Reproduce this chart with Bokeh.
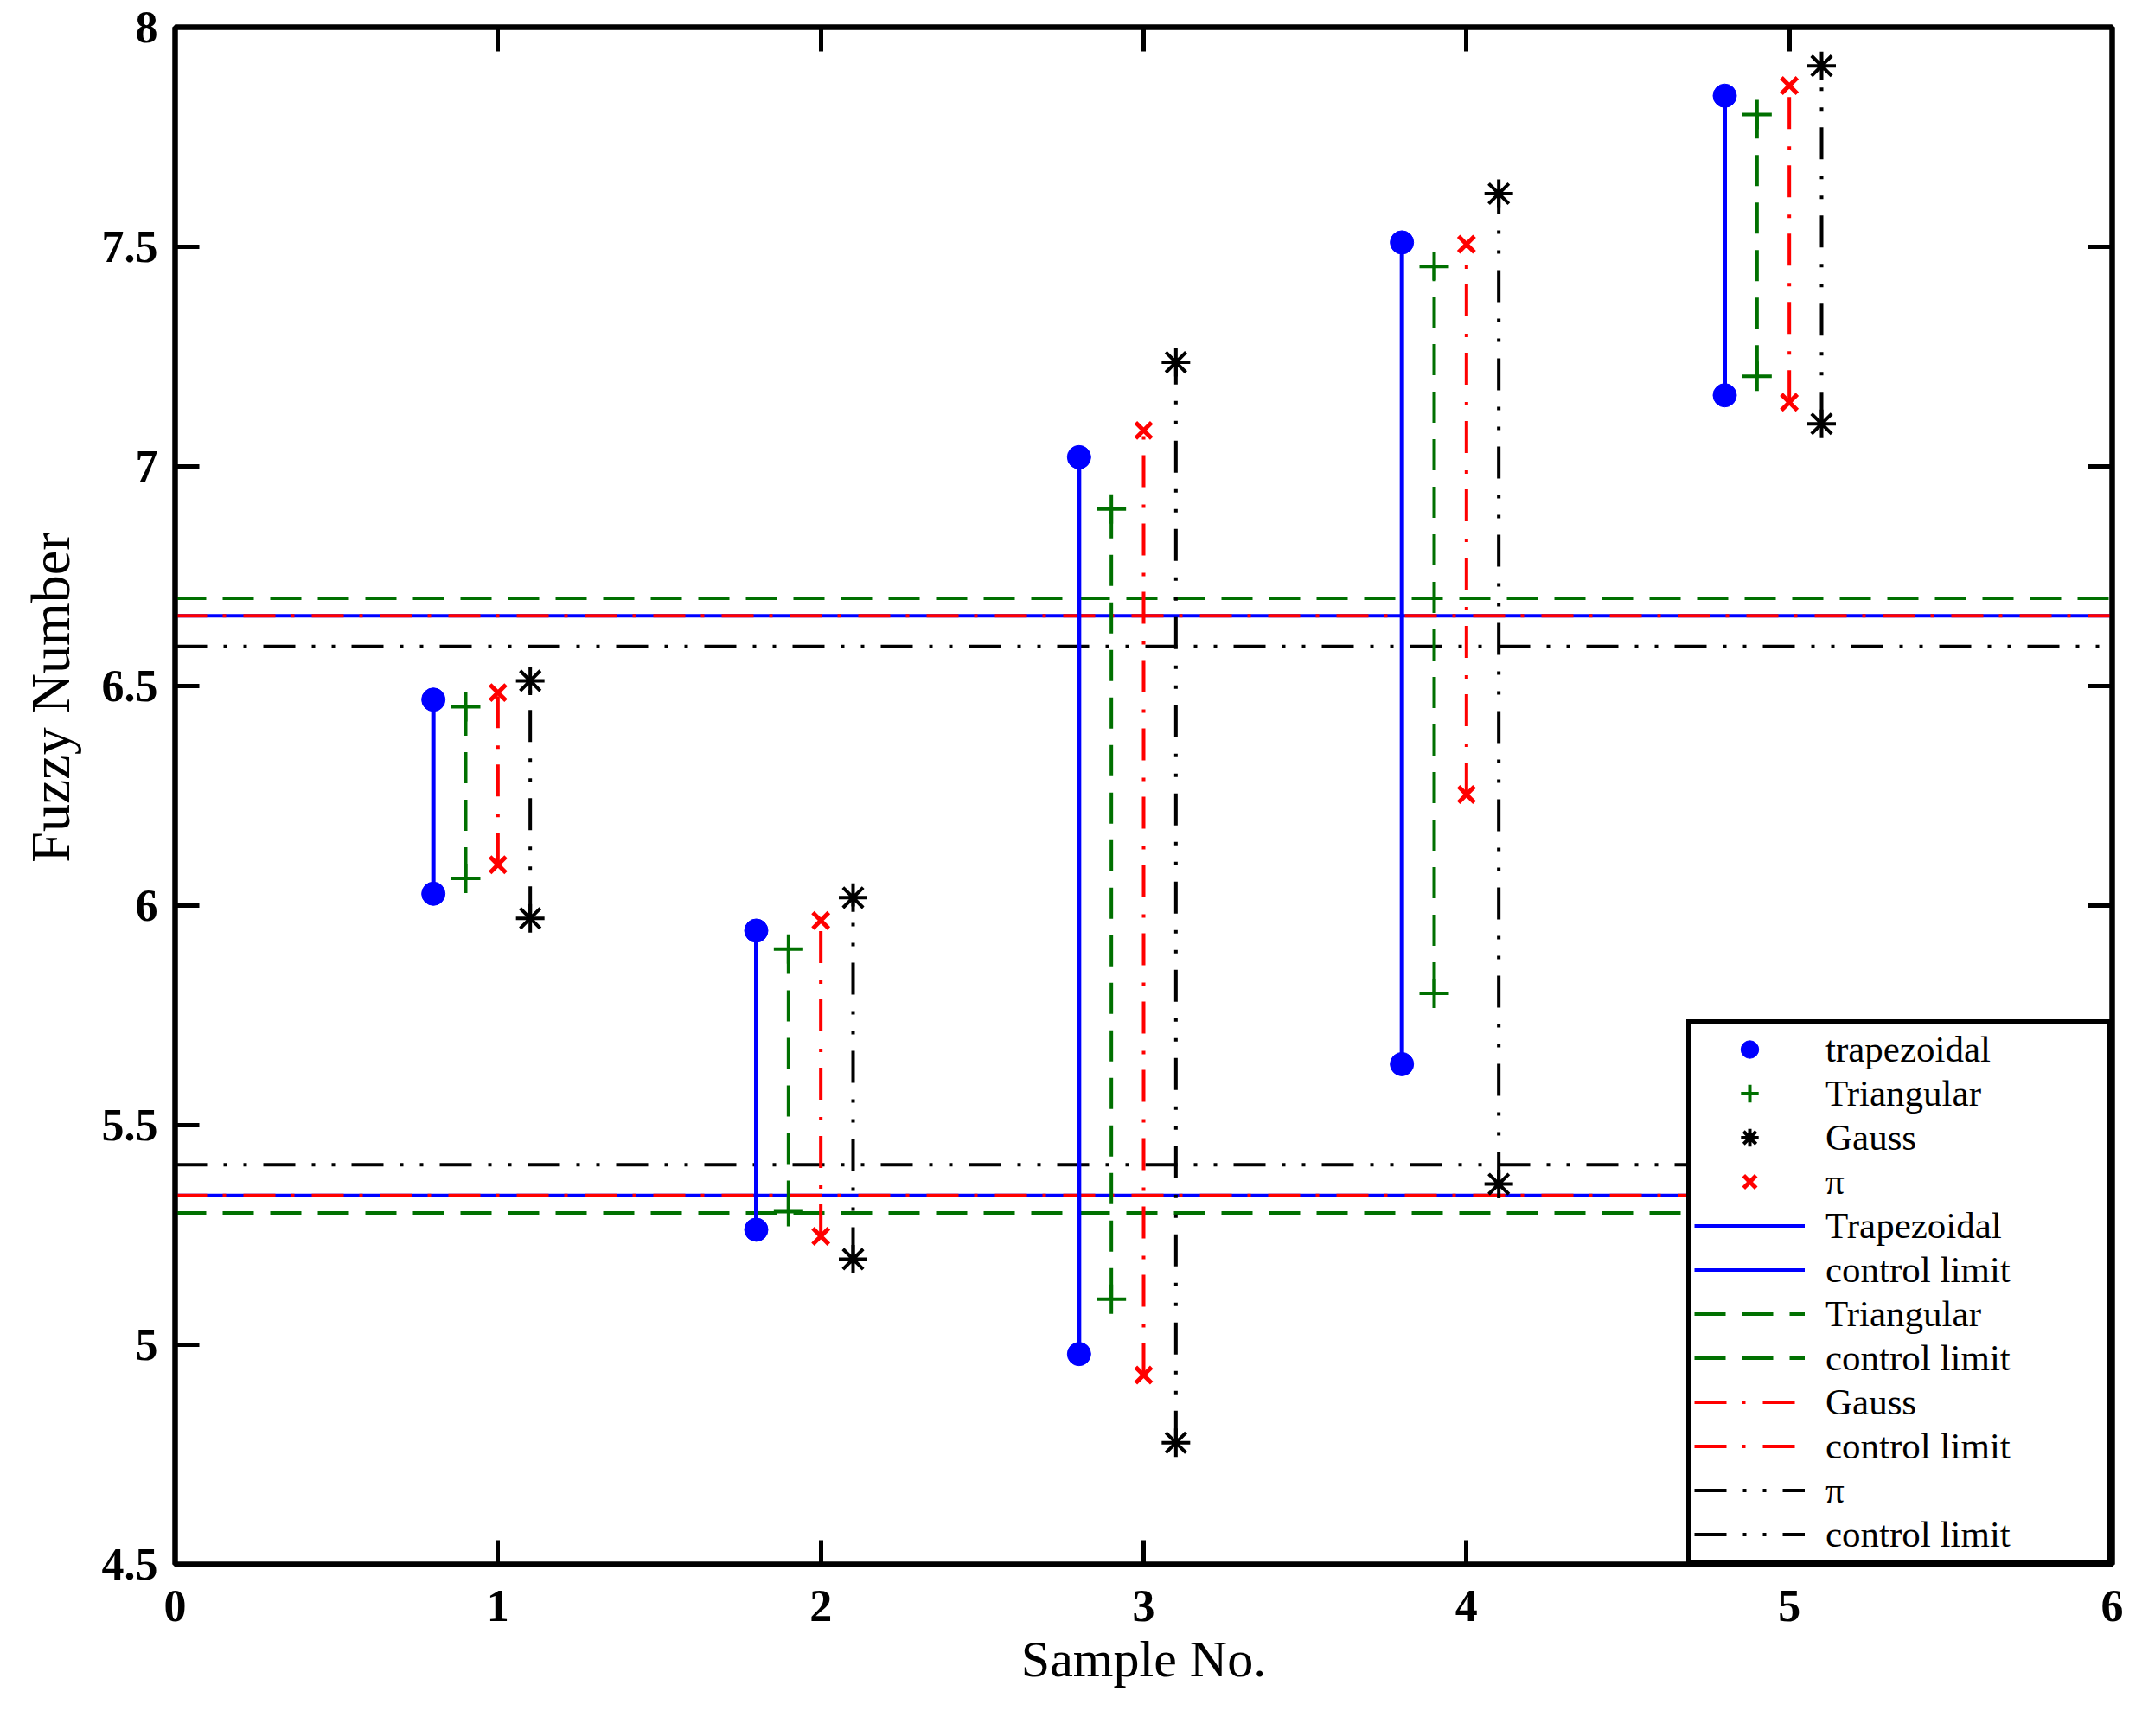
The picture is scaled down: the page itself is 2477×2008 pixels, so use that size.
from bokeh.plotting import figure
from bokeh.models import LinearAxis, FixedTicker, Legend, LegendItem, Range1d, Title
from bokeh.embed import file_html
from bokeh.resources import INLINE

# ---------------- data ----------------
samples = [1, 2, 3, 4, 5]
x_ticks = [0, 1, 2, 3, 4, 5, 6]
y_ticks = [4.5, 5.0, 5.5, 6.0, 6.5, 7.0, 7.5, 8.0]
x_limits = [0, 6]
y_limits = [4.5, 8]

# horizontal offsets of each method around the sample number
offset_trap = -0.2
offset_tri = -0.1
offset_pi = 0.0
offset_gauss = 0.1

trap_low = [6.027, 5.262, 4.979, 5.639, 7.162]
trap_high = [6.469, 5.943, 7.021, 7.510, 7.844]
tri_low = [6.062, 5.303, 5.104, 5.800, 7.205]
tri_high = [6.453, 5.901, 6.903, 7.455, 7.801]
pi_low = [6.093, 5.247, 4.931, 6.253, 7.146]
pi_high = [6.485, 5.966, 7.082, 7.506, 7.867]
gauss_low = [5.971, 5.195, 4.777, 5.366, 7.097]
gauss_high = [6.512, 6.018, 7.237, 7.621, 7.912]

trap_limits = [6.66, 5.34]
tri_limits = [6.70, 5.30]
gauss_limits = [6.66, 5.34]
pi_limits = [6.59, 5.41]

# ---------------- styles ----------------
SERIF = "Liberation Serif"
BLUE, GREEN, RED, BLACK = "#0000ff", "#007000", "#ff0000", "#000000"
DASH = "36 19"
DASHDOT = "37 18 4 20"
DASHDOTDOT = "37 19 4 19 4 19"

p = figure(width=2470, height=2000,
           x_range=Range1d(*x_limits), y_range=Range1d(*y_limits),
           output_backend="svg", toolbar_location=None,
           min_border_left=202, min_border_right=28,
           min_border_top=31, min_border_bottom=191)
p.background_fill_color = "white"
p.border_fill_color = "white"
p.outline_line_color = "black"
p.outline_line_width = 6
p.xgrid.visible = False
p.ygrid.visible = False

def style_axis(ax, ticks, show_labels=True):
    ax.ticker = FixedTicker(ticks=ticks)
    ax.axis_line_width = 6
    ax.axis_line_color = "black"
    ax.major_tick_in = 28
    ax.major_tick_out = 0
    ax.major_tick_line_width = 5
    ax.major_tick_line_color = "black"
    ax.minor_tick_line_color = None
    ax.major_label_text_font = SERIF
    ax.major_label_text_font_style = "bold"
    ax.major_label_text_color = "black"
    ax.axis_label_text_font = SERIF
    ax.axis_label_text_font_style = "normal"
    ax.axis_label_text_color = "black"
    ax.axis_label_text_font_size = "60px"
    if show_labels:
        ax.major_label_overrides = {t: f"{t:g}" for t in ticks}
        ax.major_label_text_font_size = "52px"
    else:
        ax.major_label_text_color = None
        ax.major_label_text_font_size = "1px"
        ax.major_label_standoff = 0

xaxis = p.xaxis[0]
yaxis = p.yaxis[0]
style_axis(xaxis, x_ticks)
style_axis(yaxis, y_ticks)
xaxis.axis_label = "Sample No."
xaxis.major_label_standoff = 30
yaxis.major_label_standoff = 20
xaxis.axis_label_standoff = 8

top_axis = LinearAxis()
right_axis = LinearAxis()
style_axis(top_axis, x_ticks, show_labels=False)
style_axis(right_axis, y_ticks, show_labels=False)
p.add_layout(top_axis, "above")
p.add_layout(right_axis, "right")

# y axis title placed like the reference (above the middle of the axis)
ytitle = Title(text="Fuzzy Number", align="right", vertical_align="top", offset=584,
               text_font=SERIF, text_font_size="64px", text_font_style="normal",
               text_color="black", standoff=38)
p.add_layout(ytitle, "left")

# ---------------- control limits ----------------
def hline(level, color, dash, width=4):
    return p.line(x=x_limits, y=[level, level], line_color=color,
                  line_width=width, line_dash=dash)

r_tri_u = hline(tri_limits[0], GREEN, DASH)
r_tri_l = hline(tri_limits[1], GREEN, DASH)
r_pi_u = hline(pi_limits[0], BLACK, DASHDOTDOT)
r_pi_l = hline(pi_limits[1], BLACK, DASHDOTDOT)
r_trap_u = hline(trap_limits[0], BLUE, "solid")
r_trap_l = hline(trap_limits[1], BLUE, "solid")
r_gauss_u = hline(gauss_limits[0], RED, DASHDOT)
r_gauss_l = hline(gauss_limits[1], RED, DASHDOT)

# ---------------- ranges per sample ----------------
def xs(offset):
    return [s + offset for s in samples]

x_trap, x_tri, x_pi, x_gauss = xs(offset_trap), xs(offset_tri), xs(offset_pi), xs(offset_gauss)

p.segment(x0=x_trap, y0=trap_low, x1=x_trap, y1=trap_high,
          line_color=BLUE, line_width=5)
p.segment(x0=x_tri, y0=tri_low, x1=x_tri, y1=tri_high,
          line_color=GREEN, line_width=4, line_dash=DASH)
p.segment(x0=x_pi, y0=pi_low, x1=x_pi, y1=pi_high,
          line_color=RED, line_width=4, line_dash=DASHDOT)
p.segment(x0=x_gauss, y0=gauss_low, x1=x_gauss, y1=gauss_high,
          line_color=BLACK, line_width=4, line_dash=DASHDOTDOT)

r_trap_m = p.scatter(x=x_trap + x_trap, y=trap_low + trap_high, marker="circle",
                     size=27, fill_color=BLUE, line_color=BLUE)
r_tri_m = p.scatter(x=x_tri + x_tri, y=tri_low + tri_high, marker="cross",
                    size=34, line_color=GREEN, line_width=4)
r_pi_m = p.scatter(x=x_pi + x_pi, y=pi_low + pi_high, marker="x",
                   size=26, line_color=RED, line_width=5)
r_gauss_m = p.scatter(x=x_gauss + x_gauss, y=gauss_low + gauss_high, marker="asterisk",
                      size=33, line_color=BLACK, line_width=4)

# ---------------- legend ----------------
items = [
    LegendItem(label="trapezoidal", renderers=[r_trap_m]),
    LegendItem(label="Triangular", renderers=[r_tri_m]),
    LegendItem(label="Gauss", renderers=[r_gauss_m]),
    LegendItem(label="\u03c0", renderers=[r_pi_m]),
    LegendItem(label="Trapezoidal", renderers=[r_trap_u]),
    LegendItem(label="control limit", renderers=[r_trap_l]),
    LegendItem(label="Triangular", renderers=[r_tri_u]),
    LegendItem(label="control limit", renderers=[r_tri_l]),
    LegendItem(label="Gauss", renderers=[r_gauss_u]),
    LegendItem(label="control limit", renderers=[r_gauss_l]),
    LegendItem(label="\u03c0", renderers=[r_pi_u]),
    LegendItem(label="control limit", renderers=[r_pi_l]),
]
legend = Legend(items=items, location="bottom_right", margin=0, padding=4,
                spacing=0, glyph_width=128, glyph_height=51, label_height=51,
                label_standoff=24, label_width=322,
                label_text_font=SERIF, label_text_font_size="43px",
                label_text_color="black",
                border_line_color="black", border_line_width=5,
                border_line_alpha=1.0,
                background_fill_color="white", background_fill_alpha=1.0)
p.add_layout(legend)

open("out.html", "w").write(file_html(p, INLINE))
